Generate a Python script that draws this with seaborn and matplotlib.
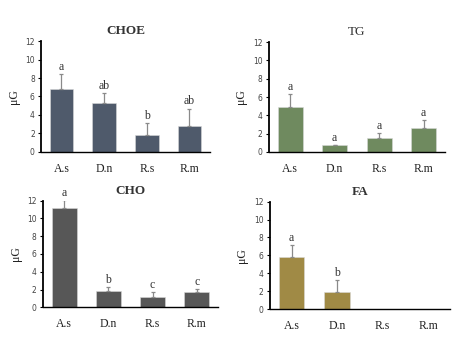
import matplotlib
matplotlib.use("Agg")
import matplotlib.pyplot as plt
import seaborn as sns
import pandas as pd
import numpy as np

categories = ['A.s', 'D.n', 'R.s', 'R.m']

choe = [6.8, 5.25, 1.83, 2.8]
choe_err = [1.6, 1.12, 1.27, 1.9]
choe_letters = ['a', 'ab', 'b', 'ab']

tg = [4.9, 0.76, 1.56, 2.57]
tg_err = [1.4, 0.0, 0.5, 0.93]
tg_letters = ['a', 'a', 'a', 'a']

cho = [11.14, 1.8, 1.12, 1.69]
cho_err = [0.93, 0.5, 0.6, 0.37]
cho_letters = ['a', 'b', 'c', 'c']

fa = [5.81, 1.86, 0.0, 0.0]
fa_err = [1.35, 1.34, 0.0, 0.0]
fa_letters = ['a', 'b', '', '']

yticks = [0, 2, 4, 6, 8, 10, 12]

sns.set_theme(style="white")
plt.rcParams['font.family'] = ['Liberation Serif', 'DejaVu Serif']

fig = plt.figure(figsize=(4.74, 3.49), dpi=100)

panels = [
    ("CHOE", choe, choe_err, choe_letters, "#4f5a6b", [0.0865, 0.5645, 0.3565, 0.318], 'semibold'),
    ("TG", tg, tg_err, tg_letters, "#6f8a5f", [0.567, 0.5645, 0.372, 0.315], 'normal'),
    ("CHO", cho, cho_err, cho_letters, "#575757", [0.0907, 0.1195, 0.3693, 0.3055], 'semibold'),
    ("FA", fa, fa_err, fa_letters, "#a08a45", [0.569, 0.1146, 0.380, 0.3074], 'semibold'),
]

for title, vals, errs, letters, color, rect, tw in panels:
    ax = fig.add_axes(rect)
    df = pd.DataFrame({"cat": categories, "val": vals})
    sns.barplot(data=df, x="cat", y="val", color=color, width=0.56,
                saturation=1, edgecolor="#d8d8d8", linewidth=0.4, ax=ax,
                errorbar=None)
    xs = np.arange(len(categories))
    yerr = np.array([np.zeros(len(errs)), errs])
    mask = np.array(vals) > 0
    ax.errorbar(xs[mask], np.array(vals)[mask], yerr=yerr[:, mask], fmt='none',
                ecolor="#8a8a8a", elinewidth=0.9, capsize=1.5, capthick=0.9)
    for x, v, e, l in zip(xs, vals, errs, letters):
        if l:
            ax.text(x, v + e + 0.15, l, ha='center', va='bottom', fontsize=8.5,
                    color="#333333", clip_on=False)
    ax.set_ylim(0, 12)
    ax.set_xlim(-0.48, 3.48)
    ax.set_yticks(yticks)
    ax.set_yticklabels([str(t) for t in yticks], fontsize=5.5, color="#444444",
                       family=['DejaVu Sans'])
    ax.tick_params(axis='y', direction='out', length=2.5, width=0.8, pad=2,
                   left=True, color='black')
    ax.tick_params(axis='x', length=0, labelsize=8.5, pad=8, colors="#222222")
    ax.set_xlabel("")
    ax.set_ylabel("μG", fontsize=8.5, color="#222222", labelpad=4)
    ax.set_title(title, fontsize=9.5, color="#333333", pad=5, fontweight=tw)
    for s in ['top', 'right']:
        ax.spines[s].set_visible(False)
    ax.spines['left'].set_color('black')
    ax.spines['left'].set_linewidth(1.3)
    ax.spines['bottom'].set_color('black')
    ax.spines['bottom'].set_linewidth(1.0)

fig.savefig("out.png", dpi=100)
